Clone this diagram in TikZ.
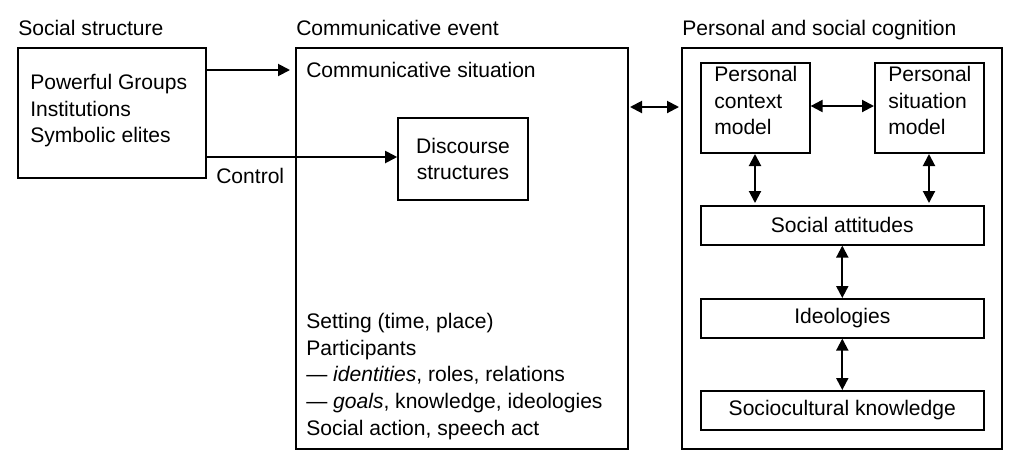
\documentclass[tikz,border=0pt]{standalone}
\usepackage{fontspec}
\setmainfont{Liberation Sans}
\usetikzlibrary{arrows.meta}
\begin{document}
\begin{tikzpicture}[x=0.75pt,y=0.75pt,yscale=-1,xscale=1,
  every node/.style={font=\fontsize{15.8}{20}\selectfont},
  box/.style={draw,line width=1.2pt},
  txt/.style={anchor=north west,inner sep=0pt,align=left},
  arr/.style={line width=1.5pt,-{Triangle[length=9pt,width=9pt]}},
  darr/.style={line width=1.5pt,{Triangle[length=9pt,width=9pt]}-{Triangle[length=9pt,width=9pt]}}]
    \useasboundingbox (0,0) rectangle (1011,455);

    %Shape: outer boxes
    \draw[box] (18,48) rectangle (206,178);
    \draw[box] (296,48) rectangle (628,449);
    \draw[box] (682,48) rectangle (1002,449);
    \node[box,minimum width=130*0.75pt,minimum height=82*0.75pt,align=center,inner sep=0pt] (disc) at (463,159) {Discourse\\structures};

    % Text Node
    \node[txt] (socstr) at (18,20) {Social structure};
    \node[txt] (commev) at (296,20) {Communicative event};
    \node[txt] (perscog) at (682,20) {Personal and social cognition};
    \node[txt] (groups) at (30,74) {Powerful Groups\\Institutions\\Symbolic elites};
    \node[txt] (commsit) at (306,62) {Communicative situation};
    \node[txt] (control) at (216,168) {Control};
    \node[txt] (setting) at (306,313) {Setting (time, place)\\Participants\\--- \textit{identities}, roles, relations\\--- \textit{goals}, knowledge, ideologies\\Social action, speech act};

    % inner cognition boxes
    \node[box,minimum width=109*0.75pt,minimum height=90*0.75pt,anchor=north west,inner sep=0pt] (pcm) at (700,62) {};
    \node[txt] at (714,66) {Personal\\context\\model};
    \node[box,minimum width=109*0.75pt,minimum height=90*0.75pt,anchor=north west,inner sep=0pt] (psm) at (874,62) {};
    \node[txt] at (888,66) {Personal\\situation\\model};
    \node[box,minimum width=283*0.75pt,minimum height=39*0.75pt,anchor=north west] (att) at (700,205) {Social attitudes};
    \node[box,minimum width=283*0.75pt,minimum height=39*0.75pt,anchor=north west] (ideo) at (700,298) {Ideologies};
    \node[box,minimum width=283*0.75pt,minimum height=39*0.75pt,anchor=north west] (know) at (700,390) {Sociocultural knowledge};

    %Straight Lines
    \draw[arr] (206,70) -- (290,70);
    \draw[arr] (206,157) -- (disc.west |- 0,157);
    \draw[darr] (630,107) -- (679,107);
    \draw[darr] (pcm.east |- 0,106) -- (psm.west |- 0,106);
    \draw[darr] (755,154) -- (755,203);
    \draw[darr] (929,154) -- (929,203);
    \draw[darr] (att.south) -- (ideo.north);
    \draw[darr] (ideo.south) -- (know.north);
\end{tikzpicture}
\end{document}
